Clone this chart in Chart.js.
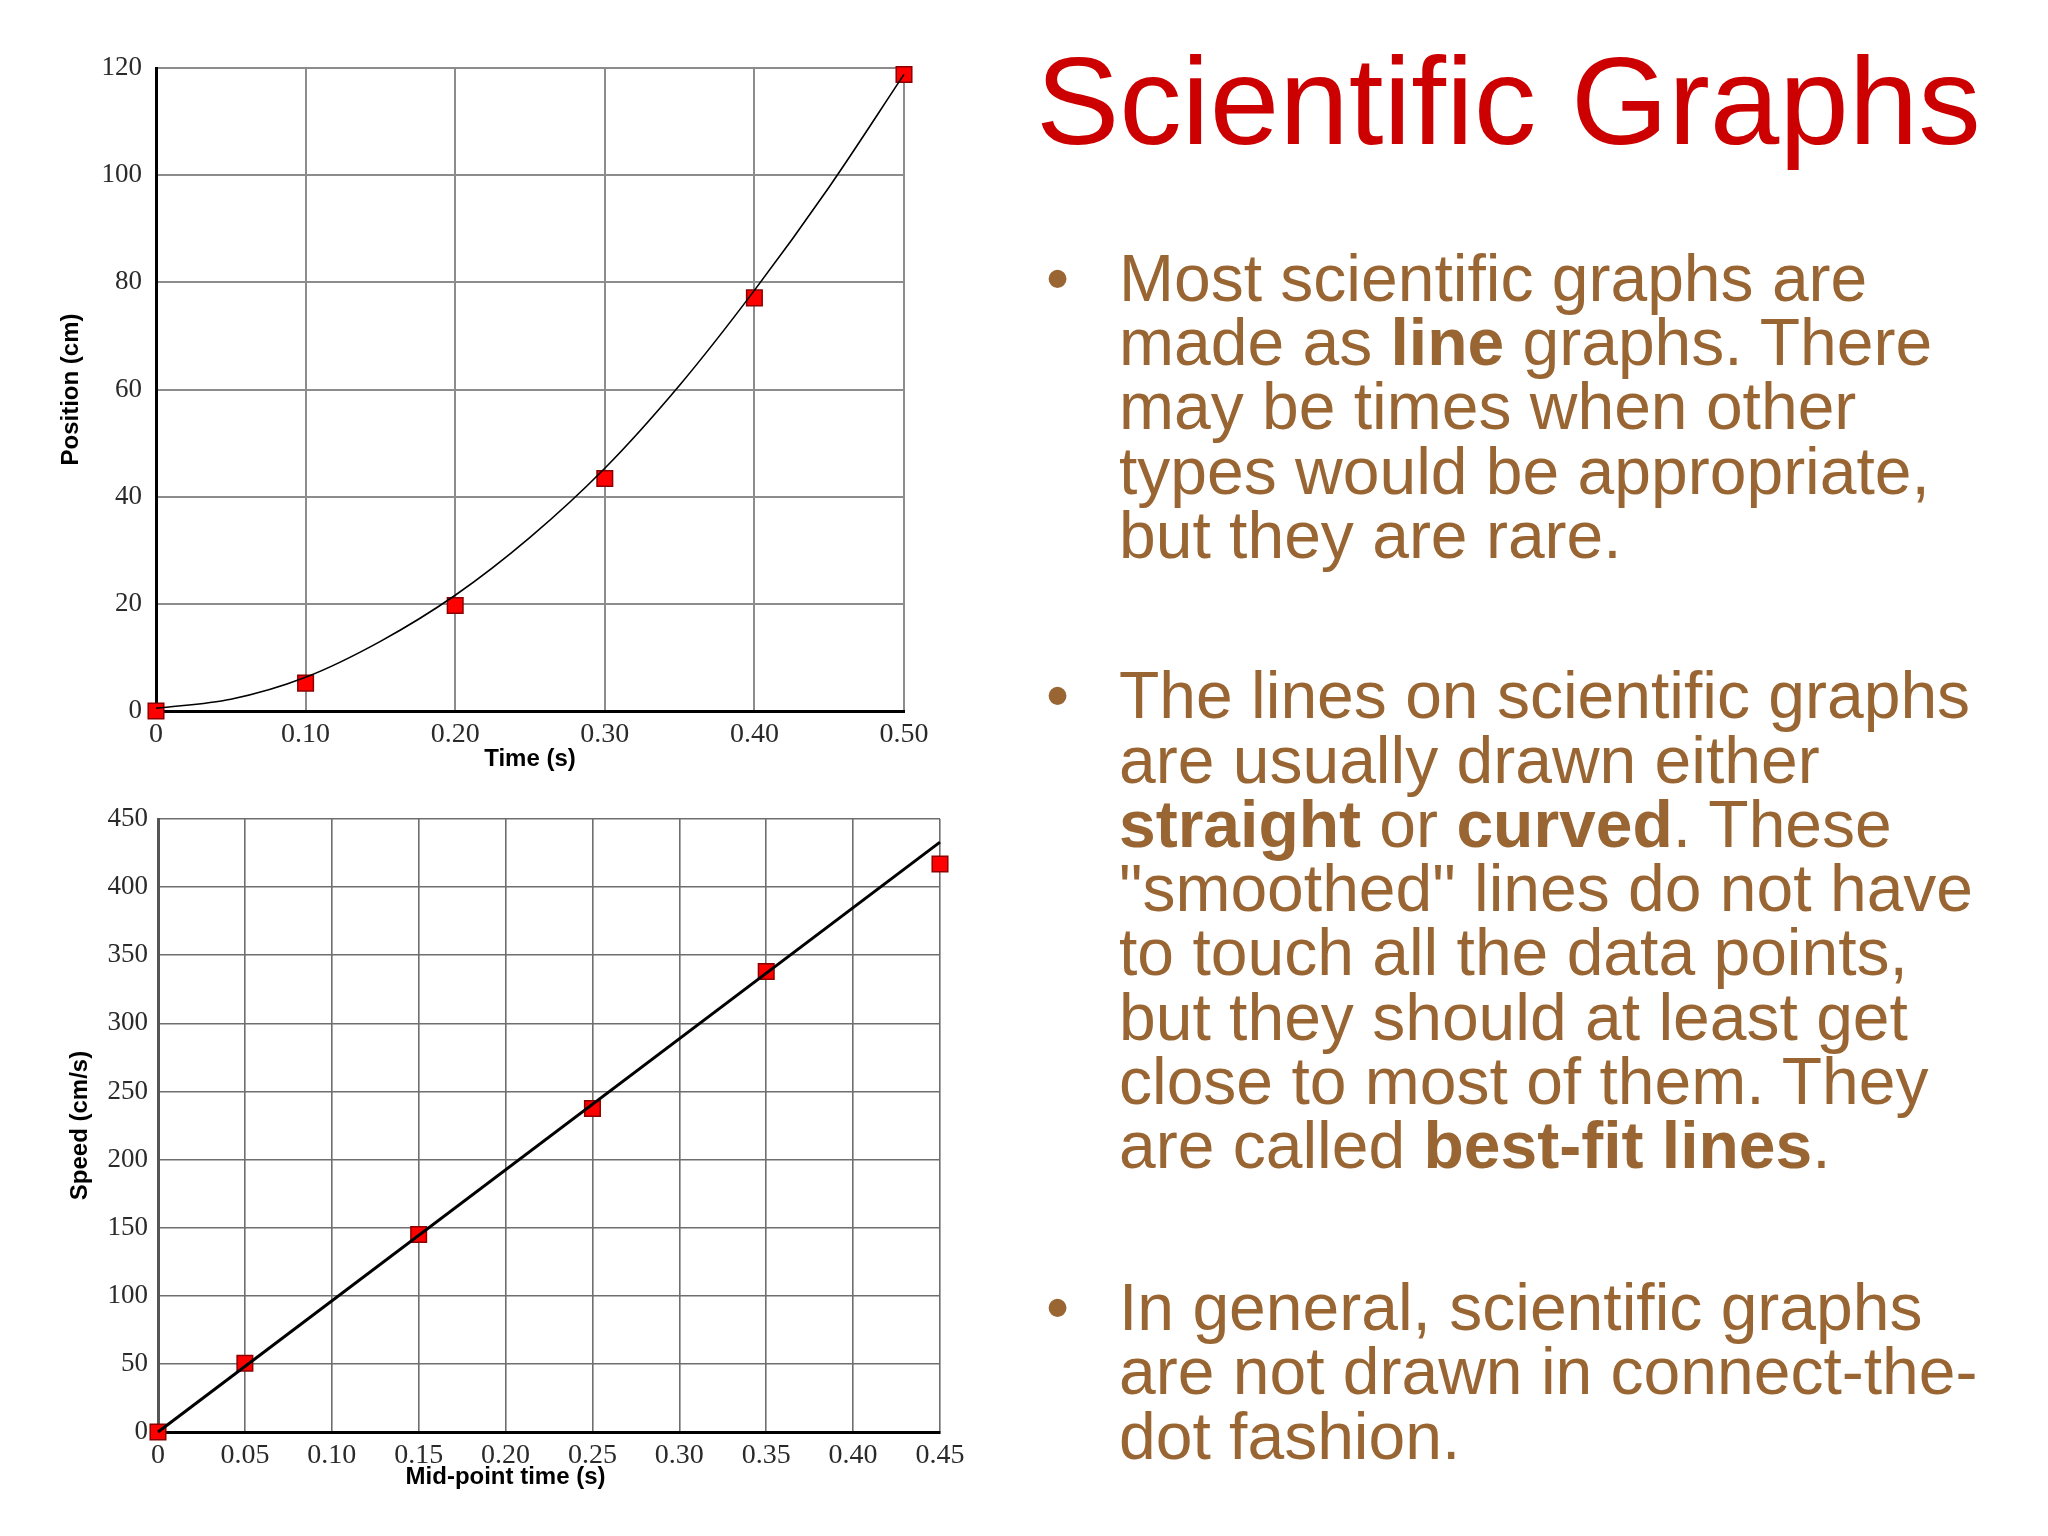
<!DOCTYPE html>
<html>
<head>
<meta charset="utf-8">
<title>Scientific Graphs</title>
<script src="https://cdn.jsdelivr.net/npm/chart.js@4.4.1/dist/chart.umd.min.js"></script>
<style>
  html, body { margin: 0; padding: 0; background: #fff; }
  #page { position: relative; width: 2048px; height: 1536px; overflow: hidden; background: #fff;
          font-family: "Liberation Sans", Arial, sans-serif; }
  canvas { position: absolute; left: 0; }
  #title { position: absolute; left: 1036px; top: 38px; font-size: 125px; line-height: 125px;
           color: #cc0000; white-space: nowrap; }
  .para { position: absolute; left: 1119px; font-size: 66px; line-height: 64.3px;
          color: #996633; white-space: nowrap; }
  .bullet { position: absolute; left: 1046px; font-size: 66px; line-height: 64.3px; color: #996633; }
</style>
</head>
<body>
<div id="page">
  <canvas id="posChart" width="1000" height="800" style="top:0px"></canvas>
  <canvas id="speedChart" width="1000" height="756" style="top:780px"></canvas>

  <div id="title">Scientific Graphs</div>

  <div class="bullet" style="top:245.7px">•</div>
  <div class="para" style="top:245.7px">Most scientific graphs are<br>made as <b>line</b> graphs. There<br>may be times when other<br>types would be appropriate,<br>but they are rare.</div>

  <div class="bullet" style="top:663.3px">•</div>
  <div class="para" style="top:663.3px">The lines on scientific graphs<br>are usually drawn either<br><b>straight</b> or <b>curved</b>. These<br>"smoothed" lines do not have<br>to touch all the data points,<br>but they should at least get<br>close to most of them. They<br>are called <b>best-fit lines</b>.</div>

  <div class="bullet" style="top:1275px">•</div>
  <div class="para" style="top:1275px">In general, scientific graphs<br>are not drawn in connect-the-<br>dot fashion.</div>
</div>

<script>
// position vs time (top graph)
const posTime = [0, 0.1, 0.2, 0.3, 0.4, 0.5];
const posValues = [0, 5.2, 19.7, 43.4, 77.1, 118.8];
const posCurveTime = [0, 0.05, 0.1, 0.15, 0.2, 0.25, 0.3, 0.35, 0.4, 0.45, 0.5];
const posCurveValues = [0.5, 2.2, 6.3, 13.0, 21.6, 32.4, 45.3, 60.8, 78.5, 97.8, 118.8];
const posXTicks = [0, 0.1, 0.2, 0.3, 0.4, 0.5];
const posXLabels = ['0', '0.10', '0.20', '0.30', '0.40', '0.50'];
const posYTicks = [0, 20, 40, 60, 80, 100, 120];
const posYLabels = ['0', '20', '40', '60', '80', '100', '120'];

// speed vs mid-point time (bottom graph)
const speedTime = [0, 0.05, 0.15, 0.25, 0.35, 0.45];
const speedValues = [0, 50.5, 145, 237.5, 338, 417];
const speedFitTime = [0, 0.45];
const speedFitValues = [0, 433];
const speedXTicks = [0, 0.05, 0.10, 0.15, 0.20, 0.25, 0.30, 0.35, 0.40, 0.45];
const speedXLabels = ['0', '0.05', '0.10', '0.15', '0.20', '0.25', '0.30', '0.35', '0.40', '0.45'];
const speedYTicks = [0, 50, 100, 150, 200, 250, 300, 350, 400, 450];
const speedYLabels = ['0', '50', '100', '150', '200', '250', '300', '350', '400', '450'];

const toPoints = (xs, ys) => xs.map((x, i) => ({ x: x, y: ys[i] }));

const tickFont = { family: 'Liberation Serif', size: 28 };
const titleFont = { family: 'Liberation Sans', size: 24, weight: 'bold' };

function gridColor(col) {
  // the zero line sits under the axis border, so leave it out
  return (ctx) => (ctx.tick && ctx.tick.value === 0) ? 'rgba(0,0,0,0)' : col;
}

function makeAxis(o) {
  return {
    type: 'linear',
    min: o.ticks[0],
    max: o.ticks[o.ticks.length - 1],
    afterBuildTicks: (s) => { s.ticks = o.ticks.map(v => ({ value: v })); },
    afterFit: (s) => { if (o.width) s.width = o.width; if (o.height) s.height = o.height; },
    grid: { color: gridColor(o.gridColor), lineWidth: o.gridWidth, drawTicks: false },
    border: { color: o.borderColor, width: 3 },
    ticks: {
      padding: o.padding,
      color: '#2a2a2a',
      font: o.font || tickFont,
      maxRotation: 0,
      autoSkip: false,
      callback: (v, i) => o.labels[i]
    },
    title: {
      display: !!o.title,
      text: o.title,
      color: '#000',
      font: titleFont,
      padding: o.titlePadding
    }
  };
}

// draws an x-axis title anchored at a data value instead of the axis centre
function offsetTitle(text, atValue, y) {
  return {
    id: 'offsetTitle',
    afterDraw(chart) {
      const ctx = chart.ctx;
      const xs = chart.scales.x;
      ctx.save();
      ctx.font = 'bold 24px "Liberation Sans"';
      ctx.fillStyle = '#000';
      ctx.textAlign = 'center';
      ctx.textBaseline = 'middle';
      ctx.fillText(text, xs.getPixelForValue(atValue), y);
      ctx.restore();
    }
  };
}

const posChart = new Chart(document.getElementById('posChart'), {
  type: 'scatter',
  data: {
    datasets: [
      {
        data: toPoints(posCurveTime, posCurveValues),
        showLine: true,
        borderColor: '#000',
        borderWidth: 1.6,
        pointRadius: 0,
        cubicInterpolationMode: 'monotone',
        clip: false
      },
      {
        data: toPoints(posTime, posValues),
        showLine: false,
        pointStyle: 'rect',
        pointRadius: 11,
        pointBackgroundColor: '#ff0000',
        pointBorderColor: '#8b0000',
        pointBorderWidth: 1.5,
        clip: false
      }
    ]
  },
  options: {
    responsive: false,
    devicePixelRatio: 1,
    animation: false,
    events: [],
    layout: { padding: { left: 0, top: 68, right: 96, bottom: 0 } },
    plugins: { legend: { display: false }, tooltip: { enabled: false } },
    scales: {
      x: makeAxis({ ticks: posXTicks, labels: posXLabels, height: 89, gridColor: '#8c8c8c', gridWidth: 2,
                    borderColor: '#000', padding: 7, title: 'Time (s)', titlePadding: { top: 0, bottom: 26 } }),
      y: makeAxis({ ticks: posYTicks, labels: posYLabels, width: 156, gridColor: '#8c8c8c', gridWidth: 2,
                    borderColor: '#000', padding: 14, font: { family: 'Liberation Serif', size: 27 },
                    title: 'Position (cm)', titlePadding: { top: 57, bottom: 0 } })
    }
  }
});

const speedChart = new Chart(document.getElementById('speedChart'), {
  type: 'scatter',
  data: {
    datasets: [
      {
        data: toPoints(speedFitTime, speedFitValues),
        showLine: true,
        borderColor: '#000',
        borderWidth: 3,
        pointRadius: 0,
        tension: 0,
        clip: false
      },
      {
        data: toPoints(speedTime, speedValues),
        showLine: false,
        pointStyle: 'rect',
        pointRadius: 11,
        pointBackgroundColor: '#ff0000',
        pointBorderColor: '#8b0000',
        pointBorderWidth: 1.5,
        clip: false
      }
    ]
  },
  options: {
    responsive: false,
    devicePixelRatio: 1,
    animation: false,
    events: [],
    layout: { padding: { left: 0, top: 39, right: 60, bottom: 0 } },
    plugins: { legend: { display: false }, tooltip: { enabled: false } },
    scales: {
      x: makeAxis({ ticks: speedXTicks, labels: speedXLabels, height: 104, gridColor: '#6e6e6e', gridWidth: 1.6,
                    borderColor: '#000', padding: 7 }),
      y: makeAxis({ ticks: speedYTicks, labels: speedYLabels, width: 158, gridColor: '#6e6e6e', gridWidth: 1.6,
                    borderColor: '#555', padding: 10, font: { family: 'Liberation Serif', size: 27 },
                    title: 'Speed (cm/s)', titlePadding: { top: 66, bottom: 0 } })
    }
  },
  plugins: [offsetTitle('Mid-point time (s)', 0.2, 697)]
});
</script>
</body>
</html>
